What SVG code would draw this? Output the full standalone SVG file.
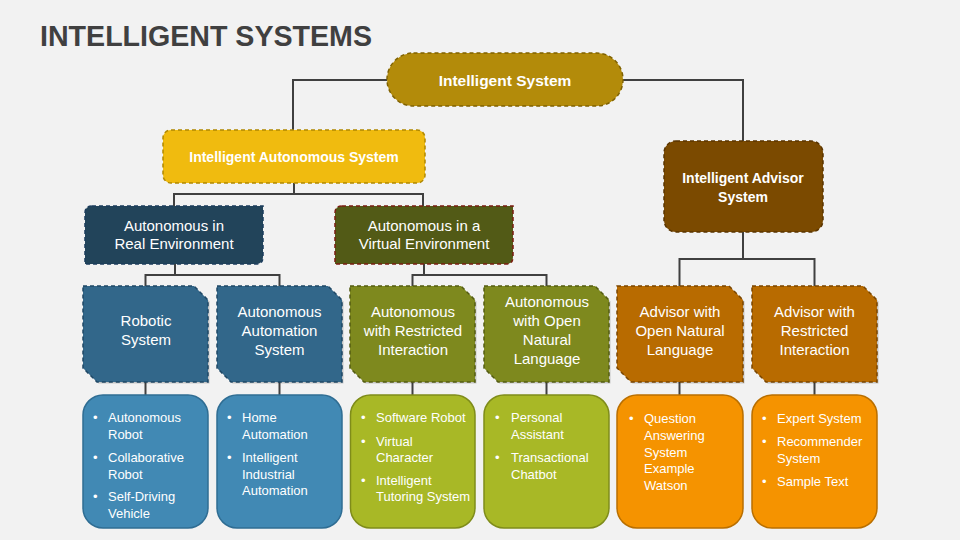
<svg xmlns="http://www.w3.org/2000/svg" width="960" height="540" viewBox="0 0 960 540">
<style>
.t{font-family:"Liberation Sans",Arial,sans-serif;fill:#fff;text-anchor:middle}
.b{font-weight:bold;font-size:14px}
.m{font-size:15px}
.s{font-family:"Liberation Sans",Arial,sans-serif;fill:#fff;font-size:13px}
.d{stroke-width:1.5;stroke-dasharray:4 3}
.c{fill:none;stroke:#404040;stroke-width:2}
.sh{fill:#000;opacity:0.18}
</style>
<rect width="960" height="540" fill="#F2F2F2"/>
<text x="40" y="45.5" font-family="Liberation Sans,Arial,sans-serif" font-weight="bold" font-size="29" fill="#404040" textLength="332" lengthAdjust="spacingAndGlyphs">INTELLIGENT SYSTEMS</text>
<g id="connectors" class="c">
<path d="M387,80 H293 V130"/>
<path d="M623,80 H743 V141"/>
<path d="M294,183 V194 M174,206 V194 H423 V206"/>
<path d="M175,264 V275 M145.5,286 V275 H279.5 V286"/>
<path d="M424,264 V275 M412.5,286 V275 H546.5 V286"/>
<path d="M743,232 V259 M679.5,286 V259 H814.5 V286"/>
<path d="M145.5,382 V395 M279.5,382 V395 M412.5,382 V395 M546.5,382 V395 M679.5,382 V395 M814.5,382 V395"/>
</g>
<g id="n-root">
<rect x="387" y="53" width="236" height="53" rx="26.5" fill="#B38B0A" stroke="#806200" class="d"/>
<text class="t" x="505" y="85.5" font-weight="bold" font-size="15.5">Intelligent System</text>
</g>
<g id="n-autonomous">
<rect x="163" y="130" width="262" height="53" rx="8" fill="#F0BB0F" stroke="#B08800" class="d"/>
<text class="t b" x="294" y="162">Intelligent Autonomous System</text>
</g>
<g id="n-advisor">
<rect x="664" y="141" width="159" height="91" rx="12" fill="#7B4A00" stroke="#5A3500" class="d"/>
<text class="t b" x="743" y="183">Intelligent Advisor</text>
<text class="t b" x="743" y="202">System</text>
</g>
<g id="n-real">
<path d="M92,206 H263 V257 Q263,264 256,264 H85 V213 Q85,206 92,206 Z" fill="#22445A" stroke="#1B3C5C" class="d"/>
<text class="t m" x="174" y="231">Autonomous in</text>
<text class="t m" x="174" y="249">Real Environment</text>
</g>
<g id="n-virtual">
<path d="M342,206 H513 V257 Q513,264 506,264 H335 V213 Q335,206 342,206 Z" fill="#525A16" stroke="#7A1C10" class="d"/>
<text class="t m" x="424" y="231">Autonomous in a</text>
<text class="t m" x="424" y="249">Virtual Environment</text>
</g>
<g id="n-robotic">
<path class="sh" d="M84.5,287.5 H195.5 L209.5,301.5 V383.5 H98.5 L84.5,369.5 Z"/>
<path d="M83,286 H194 L208,300 V382 H97 L83,368 Z" fill="#32678A" stroke="#1F4866" class="d"/>
<text class="t m" x="146" y="326">Robotic</text>
<text class="t m" x="146" y="345">System</text>
</g>
<g id="n-automation">
<path class="sh" d="M218.5,287.5 H329.5 L343.5,301.5 V383.5 H232.5 L218.5,369.5 Z"/>
<path d="M217,286 H328 L342,300 V382 H231 L217,368 Z" fill="#32678A" stroke="#1F4866" class="d"/>
<text class="t m" x="279.5" y="317">Autonomous</text>
<text class="t m" x="279.5" y="336">Automation</text>
<text class="t m" x="279.5" y="355">System</text>
</g>
<g id="n-restricted">
<path class="sh" d="M351.5,287.5 H462.5 L476.5,301.5 V383.5 H365.5 L351.5,369.5 Z"/>
<path d="M350,286 H461 L475,300 V382 H364 L350,368 Z" fill="#7E891E" stroke="#545C12" class="d"/>
<text class="t m" x="413" y="317">Autonomous</text>
<text class="t m" x="413" y="336">with Restricted</text>
<text class="t m" x="413" y="355">Interaction</text>
</g>
<g id="n-open">
<path class="sh" d="M485.5,287.5 H596.5 L610.5,301.5 V383.5 H499.5 L485.5,369.5 Z"/>
<path d="M484,286 H595 L609,300 V382 H498 L484,368 Z" fill="#7E891E" stroke="#545C12" class="d"/>
<text class="t m" x="547" y="307">Autonomous</text>
<text class="t m" x="547" y="326">with Open</text>
<text class="t m" x="547" y="345">Natural</text>
<text class="t m" x="547" y="364">Language</text>
</g>
<g id="n-adv-open">
<path class="sh" d="M618.5,287.5 H730.5 L744.5,301.5 V383.5 H632.5 L618.5,369.5 Z"/>
<path d="M617,286 H729 L743,300 V382 H631 L617,368 Z" fill="#B86B00" stroke="#7A4600" class="d"/>
<text class="t m" x="680" y="317">Advisor with</text>
<text class="t m" x="680" y="336">Open Natural</text>
<text class="t m" x="680" y="355">Language</text>
</g>
<g id="n-adv-restricted">
<path class="sh" d="M753.5,287.5 H864.5 L878.5,301.5 V383.5 H767.5 L753.5,369.5 Z"/>
<path d="M752,286 H863 L877,300 V382 H766 L752,368 Z" fill="#B86B00" stroke="#7A4600" class="d"/>
<text class="t m" x="814.5" y="317">Advisor with</text>
<text class="t m" x="814.5" y="336">Restricted</text>
<text class="t m" x="814.5" y="355">Interaction</text>
</g>
<g id="l-robotic">
<rect x="83" y="395" width="125" height="133" rx="20" fill="#4189B4" stroke="#2F6D93" stroke-width="1.5"/>
<text class="s" x="93" y="422">•</text><text class="s" x="108" y="422">Autonomous</text>
<text class="s" x="108" y="439">Robot</text>
<text class="s" x="93" y="462">•</text><text class="s" x="108" y="462">Collaborative</text>
<text class="s" x="108" y="479">Robot</text>
<text class="s" x="93" y="501">•</text><text class="s" x="108" y="501">Self-Driving</text>
<text class="s" x="108" y="518">Vehicle</text>
</g>
<g id="l-automation">
<rect x="217" y="395" width="125" height="133" rx="20" fill="#4189B4" stroke="#2F6D93" stroke-width="1.5"/>
<text class="s" x="227" y="422">•</text><text class="s" x="242" y="422">Home</text>
<text class="s" x="242" y="439">Automation</text>
<text class="s" x="227" y="462">•</text><text class="s" x="242" y="462">Intelligent</text>
<text class="s" x="242" y="479">Industrial</text>
<text class="s" x="242" y="495">Automation</text>
</g>
<g id="l-restricted">
<rect x="350.5" y="395" width="124.5" height="133" rx="20" fill="#A8B826" stroke="#7F8C1A" stroke-width="1.5"/>
<text class="s" x="361" y="422">•</text><text class="s" x="376" y="422">Software Robot</text>
<text class="s" x="361" y="446">•</text><text class="s" x="376" y="446">Virtual</text>
<text class="s" x="376" y="462">Character</text>
<text class="s" x="361" y="485">•</text><text class="s" x="376" y="485">Intelligent</text>
<text class="s" x="376" y="501">Tutoring System</text>
</g>
<g id="l-open">
<rect x="484" y="395" width="125" height="133" rx="20" fill="#A8B826" stroke="#7F8C1A" stroke-width="1.5"/>
<text class="s" x="495" y="422">•</text><text class="s" x="511" y="422">Personal</text>
<text class="s" x="511" y="439">Assistant</text>
<text class="s" x="495" y="462">•</text><text class="s" x="511" y="462">Transactional</text>
<text class="s" x="511" y="479">Chatbot</text>
</g>
<g id="l-adv-open">
<rect x="617" y="395" width="126" height="133" rx="20" fill="#F59300" stroke="#B96F00" stroke-width="1.5"/>
<text class="s" x="629" y="423">•</text><text class="s" x="644" y="423">Question</text>
<text class="s" x="644" y="440">Answering</text>
<text class="s" x="644" y="457">System</text>
<text class="s" x="644" y="473">Example</text>
<text class="s" x="644" y="490">Watson</text>
</g>
<g id="l-adv-restricted">
<rect x="752" y="395" width="125" height="133" rx="20" fill="#F59300" stroke="#B96F00" stroke-width="1.5"/>
<text class="s" x="762" y="423">•</text><text class="s" x="777" y="423">Expert System</text>
<text class="s" x="762" y="446">•</text><text class="s" x="777" y="446">Recommender</text>
<text class="s" x="777" y="463">System</text>
<text class="s" x="762" y="486">•</text><text class="s" x="777" y="486">Sample Text</text>
</g>
</svg>
